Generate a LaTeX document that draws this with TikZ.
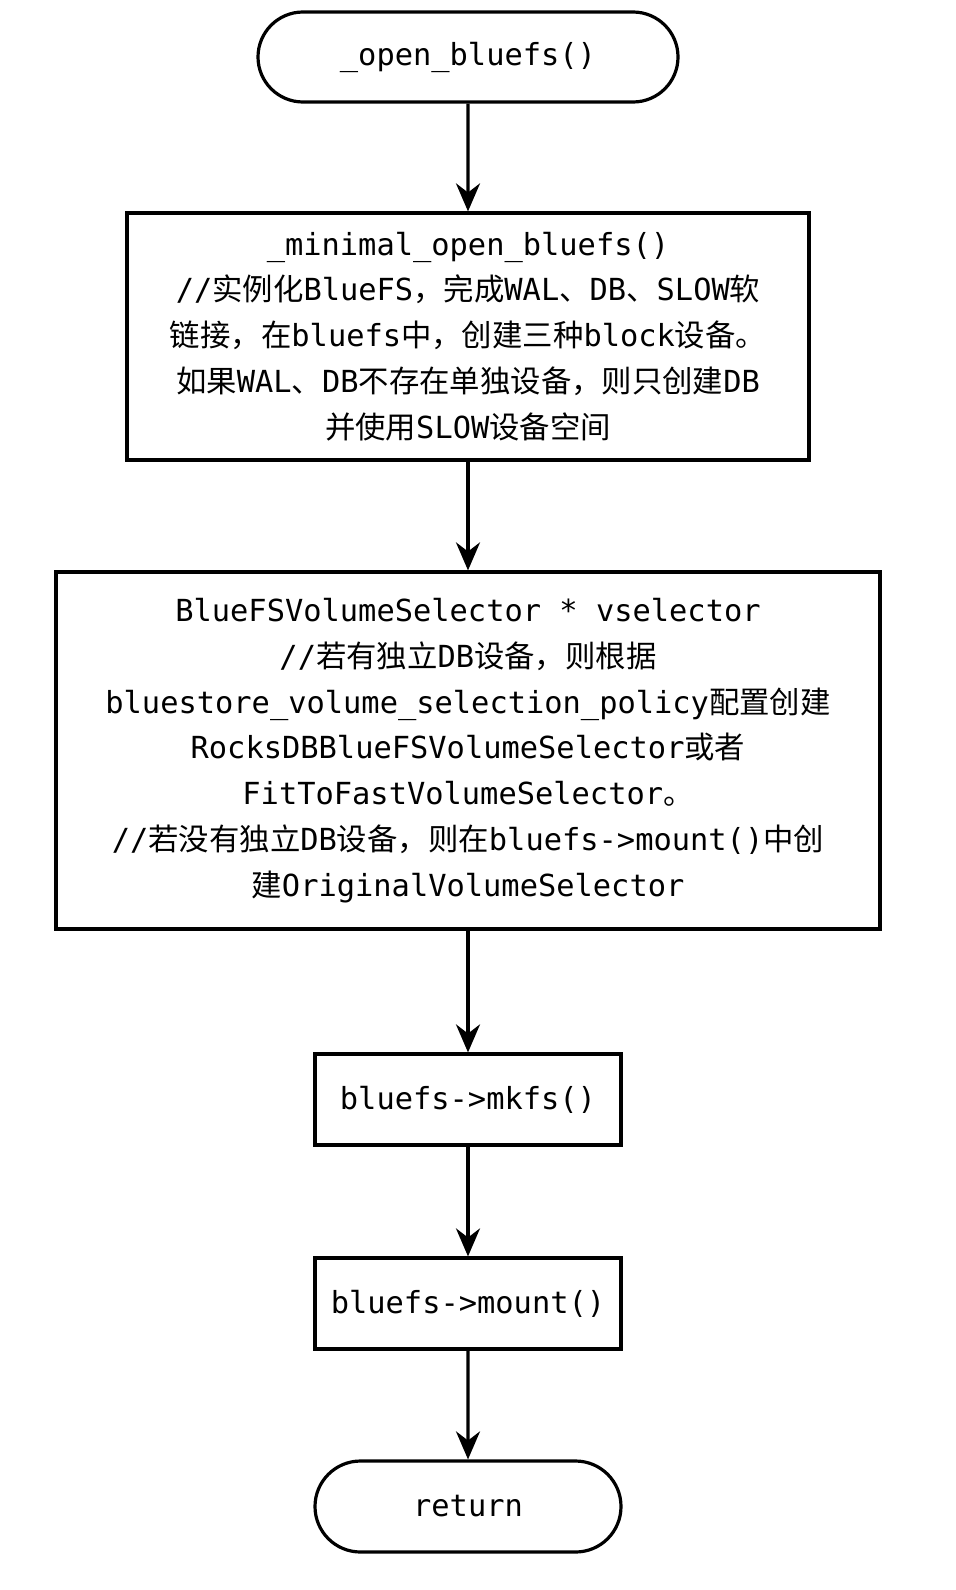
\documentclass[tikz,border=0pt]{standalone}
\usepackage{fontspec}
\setmainfont{DejaVu Sans Mono}
\newfontfamily\zhfont{Noto Sans CJK SC}
\newcommand{\zh}[1]{{\zhfont #1}}
\usetikzlibrary{arrows.meta, shapes.misc}
\begin{document}
\begin{tikzpicture}[x=1bp, y=-1bp, line width=3.2bp,
  term/.style={draw, rounded rectangle, minimum width=420bp, minimum height=90bp, inner sep=0pt},
  proc/.style={draw, rectangle, align=center, inner sep=0pt},
  flow/.style={-{Stealth[length=28bp, width=24bp]}},
  font=\fontsize{30.5}{46}\selectfont]
  \useasboundingbox (0,0) rectangle (955,1590);
  \node[term] (start) at (468,57) {\_open\_bluefs()};
  \node[proc, minimum width=682bp, minimum height=247bp] (minimal) at (468,336.5)
    {\_minimal\_open\_bluefs()\\
     //\zh{实例化}BlueFS\zh{，完成}WAL\zh{、}DB\zh{、}SLOW\zh{软}\\
     \zh{链接，在}bluefs\zh{中，创建三种}block\zh{设备。}\\
     \zh{如果}WAL\zh{、}DB\zh{不存在单独设备，则只创建}DB\\
     \zh{并使用}SLOW\zh{设备空间}};
  \node[proc, minimum width=824bp, minimum height=357bp] (selector) at (468,750.5)
    {BlueFSVolumeSelector * vselector\\
     //\zh{若有独立}DB\zh{设备，则根据}\\
     bluestore\_volume\_selection\_policy\zh{配置创建}\\
     RocksDBBlueFSVolumeSelector\zh{或者}\\
     FitToFastVolumeSelector\zh{。}\\
     //\zh{若没有独立}DB\zh{设备，则在}bluefs->mount()\zh{中创}\\
     \zh{建}OriginalVolumeSelector};
  \node[proc, minimum width=306bp, minimum height=91bp] (mkfs) at (468,1099.5) {bluefs->mkfs()};
  \node[proc, minimum width=306bp, minimum height=91bp] (mount) at (468,1303.5) {bluefs->mount()};
  \node[term, minimum width=306bp, minimum height=91bp] (ret) at (468,1506.5) {return};
  % connectors
  \draw[flow] (start) -- (minimal);
  \draw[flow] (minimal) -- (selector);
  \draw[flow] (selector) -- (mkfs);
  \draw[flow] (mkfs) -- (mount);
  \draw[flow] (mount) -- (ret);
\end{tikzpicture}
\end{document}
